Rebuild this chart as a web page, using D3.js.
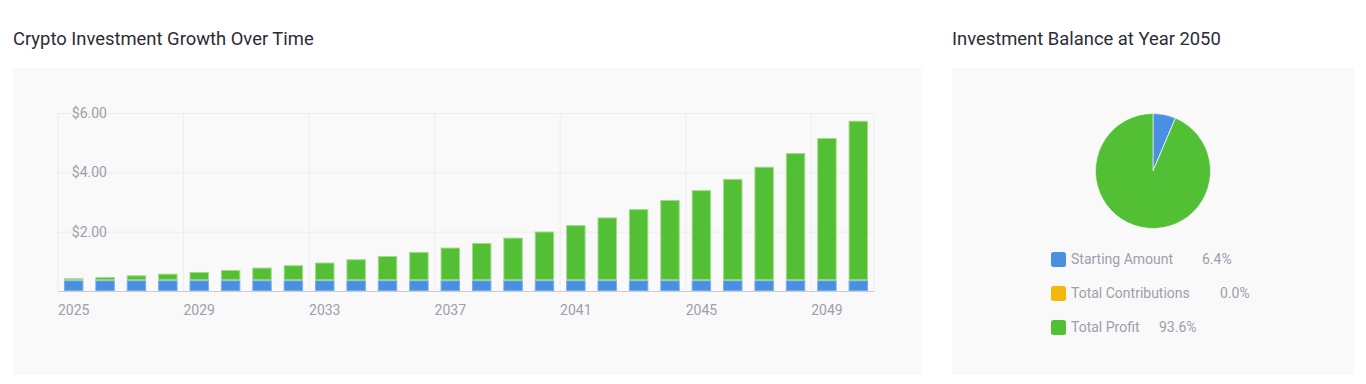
<!DOCTYPE html>
<html>
<head>
<meta charset="utf-8">
<script src="https://cdn.jsdelivr.net/npm/d3@7"></script>
<style>
  html, body { margin: 0; padding: 0; background: #ffffff; }
  svg { display: block; font-family: Roboto, "Noto Sans", sans-serif; }
</style>
</head>
<body>
<svg id="chart" width="1366" height="384"></svg>
<script>
// ---- data ----
const years = [2025, 2026, 2027, 2028, 2029, 2030, 2031, 2032, 2033, 2034, 2035, 2036, 2037,
               2038, 2039, 2040, 2041, 2042, 2043, 2044, 2045, 2046, 2047, 2048, 2049, 2050];
const startingAmount = [0.36, 0.36, 0.36, 0.36, 0.36, 0.36, 0.36, 0.36, 0.36, 0.36, 0.36, 0.36, 0.36,
                        0.36, 0.36, 0.36, 0.36, 0.36, 0.36, 0.36, 0.36, 0.36, 0.36, 0.36, 0.36, 0.36];
const totalProfit = [0.07, 0.11, 0.17, 0.225, 0.28, 0.35, 0.43, 0.51, 0.60, 0.71, 0.82, 0.96, 1.105,
                     1.26, 1.44, 1.645, 1.86, 2.12, 2.40, 2.71, 3.04, 3.42, 3.83, 4.29, 4.80, 5.38];
const xTickYears = [2025, 2029, 2033, 2037, 2041, 2045, 2049];
const yTicks = [2, 4, 6];
const pieLabels = ["Starting Amount", "Total Contributions", "Total Profit"];
const pieShares = [6.4, 0.0, 93.6];
const chartTitle = "Crypto Investment Growth Over Time";
const pieTitle = "Investment Balance at Year 2050";

(function () {
// ---- styles ----
const BLUE = "#4a8fe1", GREEN = "#52bf35", YELLOW = "#f4b70c";
const pieColors = [BLUE, YELLOW, GREEN];
const TICK = "#9d9fab";

const svg = d3.select("#chart");

// panels
svg.append("rect").attr("x", 13).attr("y", 68).attr("width", 908).attr("height", 307).attr("fill", "#f9f9f9");
svg.append("rect").attr("x", 952).attr("y", 68).attr("width", 402).attr("height", 307).attr("fill", "#f9f9f9");

// titles
svg.append("text").attr("x", 13).attr("y", 45).attr("font-size", 18.4).attr("fill", "#2b2b36").text(chartTitle);
svg.append("text").attr("x", 952).attr("y", 45).attr("font-size", 18.4).attr("fill", "#2b2b36").text(pieTitle);

// ---- bar chart ----
const pLeft = 58, pRight = 874, pTop = 113, pBottom = 291;
const pad = 0.38;
const x = d3.scaleBand().domain(years).range([pLeft, pRight]).paddingInner(pad).paddingOuter(pad / 2);
const y = d3.scaleLinear().domain([0, 6]).range([pBottom, pTop]);
const step = x.step();

const g = svg.append("g");
// horizontal grid
g.selectAll("line.hg").data(yTicks).join("line")
  .attr("x1", pLeft).attr("x2", pRight)
  .attr("y1", d => y(d) + 0.5).attr("y2", d => y(d) + 0.5)
  .attr("stroke", "#ededed").attr("stroke-width", 1);
// vertical grid
const vLines = xTickYears.map(yr => x(yr) + x.bandwidth() / 2 - step / 2).concat([pRight]);
g.selectAll("line.vg").data(vLines).join("line")
  .attr("x1", d => d).attr("x2", d => d)
  .attr("y1", pTop).attr("y2", pBottom)
  .attr("stroke", "#ededed").attr("stroke-width", 1);

// stacked bars
const rows = years.map((yr, i) => ({ year: yr, start: startingAmount[i], profit: totalProfit[i] }));
const stack = d3.stack().keys(["start", "profit"])(rows);
const fills = [BLUE, GREEN];
const strokes = ["#79aee9", "#a6d98c"];
stack.forEach((layer, li) => {
  g.append("g").selectAll("rect").data(layer).join("rect")
    .attr("x", d => x(d.data.year) + 0.5)
    .attr("width", x.bandwidth() - 1)
    .attr("y", d => y(d[1]) + 0.5)
    .attr("height", d => Math.max(0, y(d[0]) - y(d[1]) - 1))
    .attr("fill", fills[li])
    .attr("stroke", strokes[li]).attr("stroke-width", 1);
});

// baseline axis
g.append("line").attr("x1", pLeft).attr("x2", pRight).attr("y1", pBottom + 0.5).attr("y2", pBottom + 0.5)
  .attr("stroke", "#c9ccd4").attr("stroke-width", 1);

// x labels
g.selectAll("text.xl").data(xTickYears).join("text")
  .attr("x", d => x(d) + x.bandwidth() / 2)
  .attr("y", 315)
  .attr("text-anchor", "middle")
  .attr("font-size", 14).attr("fill", TICK)
  .text(d => d);

// y labels
const fmt = d3.format("$.2f");
g.selectAll("text.yl").data(yTicks).join("text")
  .attr("x", 107)
  .attr("y", d => y(d))
  .attr("dy", "0.35em")
  .attr("text-anchor", "end")
  .attr("font-size", 14).attr("fill", TICK)
  .text(d => fmt(d));

// ---- pie ----
const pieG = svg.append("g").attr("transform", "translate(1153,171)");
const pie = d3.pie().sort(null).value(d => d)(pieShares);
const arc = d3.arc().innerRadius(0).outerRadius(57.5);
pieG.selectAll("path").data(pie).join("path")
  .attr("d", arc)
  .attr("fill", (d, i) => pieColors[i])
  .attr("stroke", "#f9f9f9").attr("stroke-width", 0.6);

// legend
const legendRowsY = [259, 293, 327];
const pctX = [1202, 1220, 1159];
const lg = svg.append("g");
pieLabels.forEach((lab, i) => {
  lg.append("rect").attr("x", 1051).attr("y", legendRowsY[i] - 7).attr("width", 15).attr("height", 15)
    .attr("rx", 2.5).attr("fill", pieColors[i]);
  lg.append("text").attr("x", 1071).attr("y", legendRowsY[i]).attr("dy", "0.35em")
    .attr("font-size", 14).attr("fill", TICK).text(lab);
  lg.append("text").attr("x", pctX[i]).attr("y", legendRowsY[i]).attr("dy", "0.35em")
    .attr("font-size", 14).attr("fill", TICK).text(d3.format(".1f")(pieShares[i]) + "%");
});
})();
</script>
</body>
</html>
